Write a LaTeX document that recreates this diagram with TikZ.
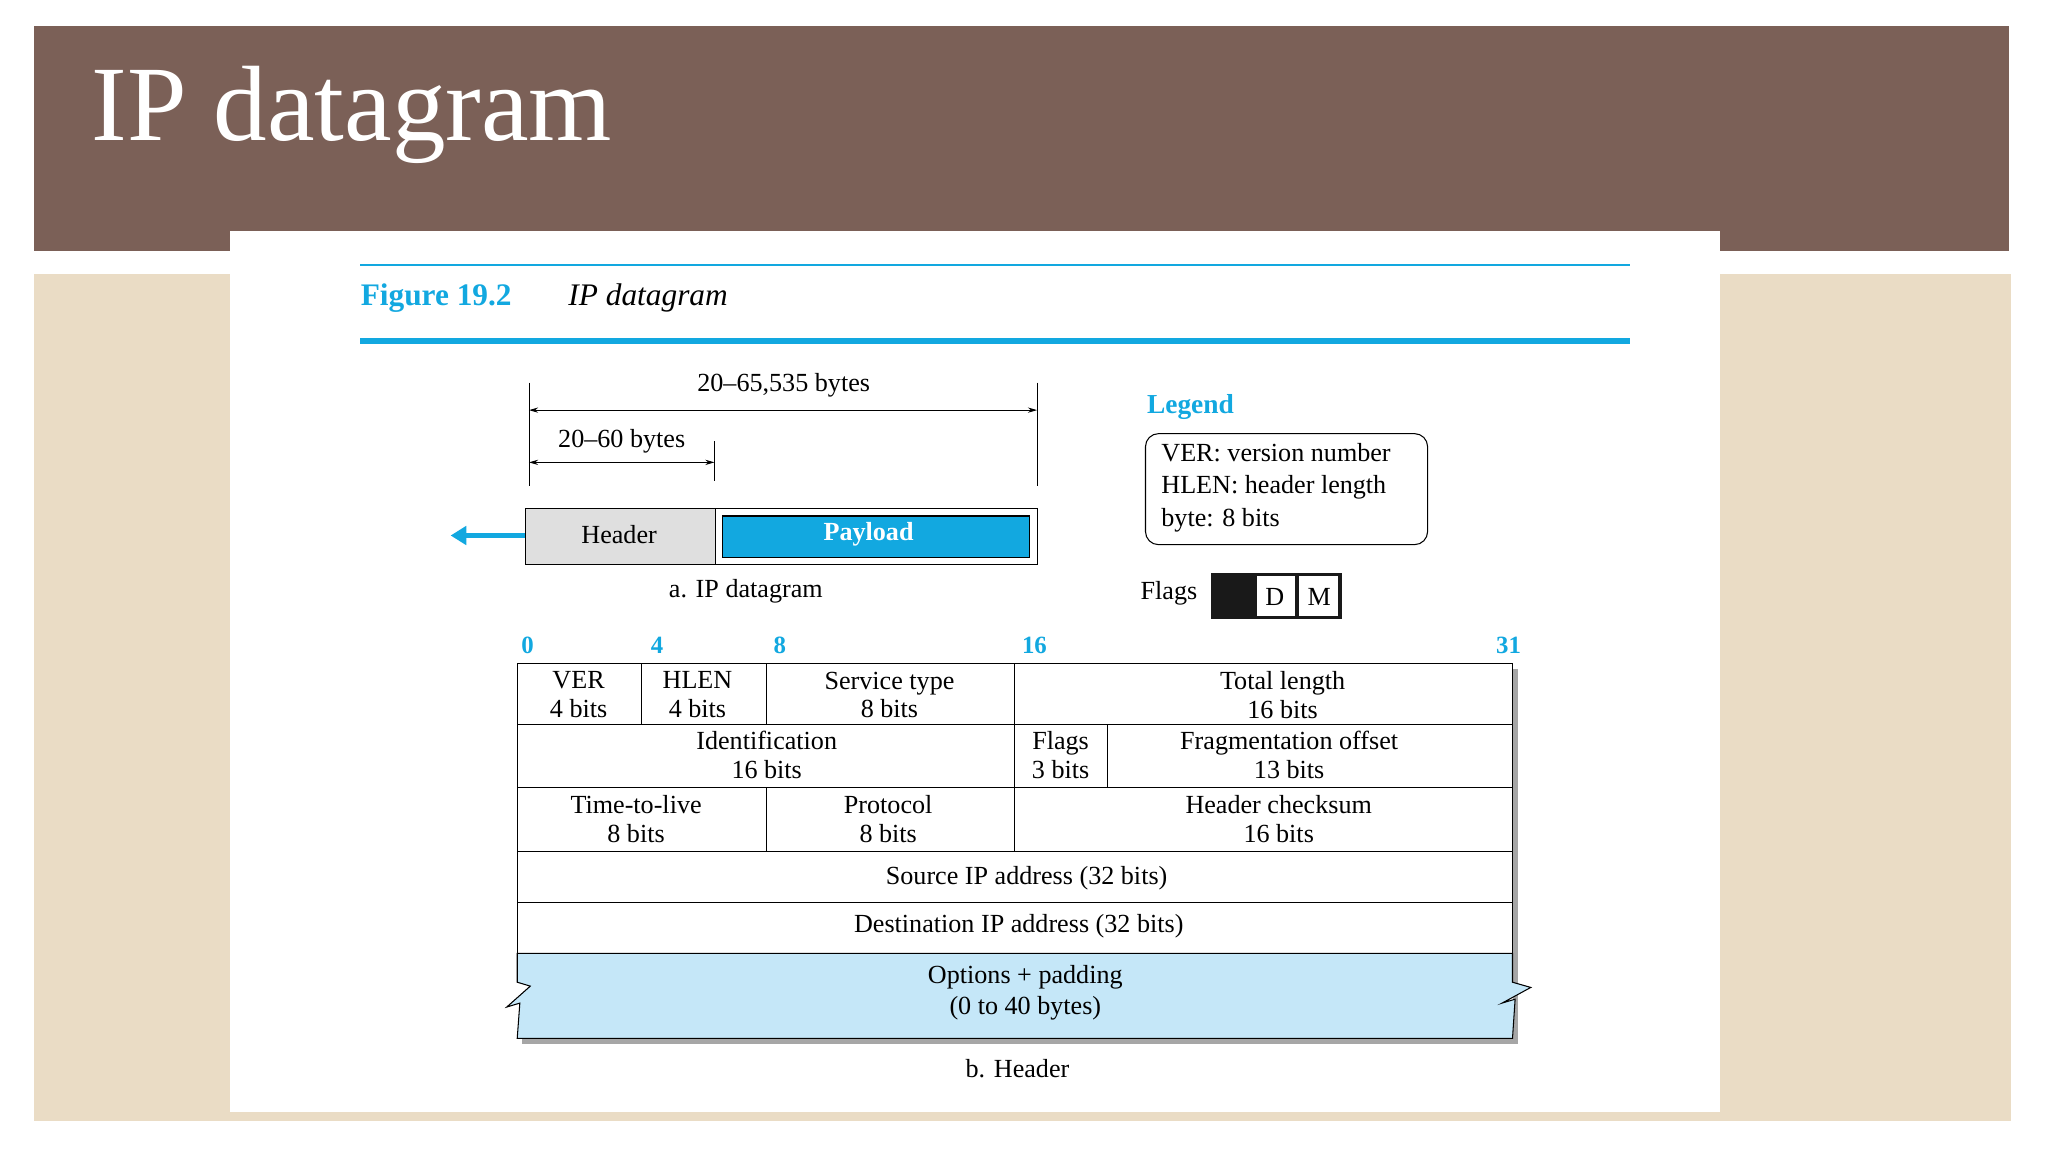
\documentclass[tikz,border=0pt]{standalone}
\usepackage{fontspec}
\setmainfont{Liberation Serif}
\usetikzlibrary{arrows.meta}
\definecolor{brn}{HTML}{7B6057}
\definecolor{bge}{HTML}{EADCC5}
\definecolor{cy}{HTML}{12A8E0}
\definecolor{lb}{HTML}{C5E7F8}
\begin{document}
\begin{tikzpicture}[x=1pt,y=-1pt,
 t/.style={font=\fontsize{20}{21}\selectfont,align=center,inner sep=0pt},
 bitn/.style={font=\fontsize{19}{20}\selectfont\bfseries,text=cy,inner sep=0pt},
 dim/.style={{Stealth[length=7pt,width=4pt]}-{Stealth[length=7pt,width=4pt]},line width=0.7pt}]
\useasboundingbox (0,0) rectangle (1568,882);
\fill[white] (0,0) rectangle (1568,882);
\fill[bge] (26,210) rectangle (1540,858);
\fill[brn] (26,20) rectangle (1538,192);
\fill[white] (176,177) rectangle (1317,851);
\node[anchor=west,text=white,font=\fontsize{82}{82}\selectfont,inner sep=0pt] (title) at (70,88) {IP datagram};
% figure header
\draw[cy,line width=1.5pt] (276,203) -- (1248,203);
\draw[cy,line width=5pt] (276,261) -- (1248,261);
\node[anchor=west,text=cy,font=\fontsize{24}{24}\selectfont\bfseries,inner sep=0pt] (fig) at (276,228) {Figure 19.2};
\node[anchor=west,font=\fontsize{24}{24}\selectfont\itshape,inner sep=0pt] (figt) at (435,228) {IP datagram};
% part a
\coordinate (d1t) at (405,293); \coordinate (d1b) at (405,372);
\coordinate (d2t) at (794,293); \coordinate (d2b) at (794,372);
\coordinate (d3t) at (547,338); \coordinate (d3b) at (547,368);
\draw[line width=0.7pt] (d1t)--(d1b) (d2t)--(d2b) (d3t)--(d3b);
\coordinate (a1) at (405,314); \coordinate (a2) at (794,314);
\coordinate (b1) at (405,354); \coordinate (b2) at (547,354);
\draw[dim] (a1)--(a2); \draw[dim] (b1)--(b2);
\node[t] (l1) at (600,295) {20–65,535 bytes};
\node[t] (l2) at (476,338) {20–60 bytes};
\draw[fill=gray!25,line width=0.7pt] (402,389) rectangle (548,432);
\node[t] (hdr) at (474,409) {Header};
\draw[line width=0.7pt] (548,389) rectangle (794,432);
\draw[fill=cy,line width=1pt] (553,395) rectangle (788,427);
\node[t,text=white,font=\fontsize{20}{21}\selectfont\bfseries] (pl) at (665,409) {Payload};
\coordinate (ar1) at (402,410); \coordinate (ar2) at (345,410);
\draw[cy,line width=4pt,-{Triangle[length=12pt,width=14pt]}] (ar1)--(ar2);
\node[t] (capa) at (571,453) {a. IP datagram};
% legend
\node[anchor=west,text=cy,font=\fontsize{21}{21}\selectfont\bfseries,inner sep=0pt] (leg) at (878,312) {Legend};
\draw[rounded corners=10pt,line width=0.8pt] (877,332) rectangle (1093,417);
\node[anchor=north west,align=left,font=\fontsize{20}{25}\selectfont,inner sep=0pt] (legt) at (889,339) {VER: version number\\HLEN: header length\\byte: 8 bits};
\node[t] (fl) at (895,454) {Flags};
\fill[black!90] (927,439) rectangle (961,474);
\draw[line width=2.5pt,black!90] (961,440) rectangle (1026,473) (993,440)--(993,473);
\node[t] (fd) at (976,457) {D};
\node[t] (fm) at (1010,457) {M};
% part b bit numbers
\node[bitn] at (404,494) {0};
\node[bitn] at (503,494) {4};
\node[bitn] at (597,494) {8};
\node[bitn] at (792,494) {16};
\node[bitn] at (1155,494) {31};
% shadow
\fill[gray!70] (1158,512) rectangle (1162,799);
\fill[gray!70] (400,795) rectangle (1162,799);
% options
\draw[fill=lb,line width=0.8pt] (396,730)--(1158,730)--(1158,752)--(1172,756)--(1150,768)--(1160,765)--(1158,795)--(396,795)--(398,768)--(388,771)--(406,755)--(396,752)--cycle;
\node[t,font=\fontsize{20}{24}\selectfont] (opt) at (785,760) {Options + padding\\(0 to 40 bytes)};
% table
\draw[line width=0.8pt] (396,508) rectangle (1158,730);
\draw[line width=0.8pt] (396,555)--(1158,555) (396,603)--(1158,603) (396,652)--(1158,652) (396,691)--(1158,691);
\draw[line width=0.8pt] (491,508)--(491,555) (587,508)--(587,555) (777,508)--(777,652) (848,555)--(848,603) (587,603)--(587,652);
\node[t,font=\fontsize{20}{22}\selectfont] at (443,532) {VER\\4 bits};
\node[t,font=\fontsize{20}{22}\selectfont] at (534,532) {HLEN\\4 bits};
\node[t,font=\fontsize{20}{22}\selectfont] at (681,532) {Service type\\8 bits};
\node[t,font=\fontsize{20}{22}\selectfont] at (982,532) {Total length\\16 bits};
\node[t,font=\fontsize{20}{22}\selectfont] at (587,578) {Identification\\16 bits};
\node[t,font=\fontsize{20}{22}\selectfont] at (812,578) {Flags\\3 bits};
\node[t,font=\fontsize{20}{22}\selectfont] at (987,578) {Fragmentation offset\\13 bits};
\node[t,font=\fontsize{20}{22}\selectfont] at (487,627) {Time-to-live\\8 bits};
\node[t,font=\fontsize{20}{22}\selectfont] at (680,627) {Protocol\\8 bits};
\node[t,font=\fontsize{20}{22}\selectfont] at (979,627) {Header checksum\\16 bits};
\node[t] at (786,672) {Source IP address (32 bits)};
\node[t] at (780,709) {Destination IP address (32 bits)};
\node[t] (capb) at (779,818) {b. Header};
\end{tikzpicture}
\end{document}
